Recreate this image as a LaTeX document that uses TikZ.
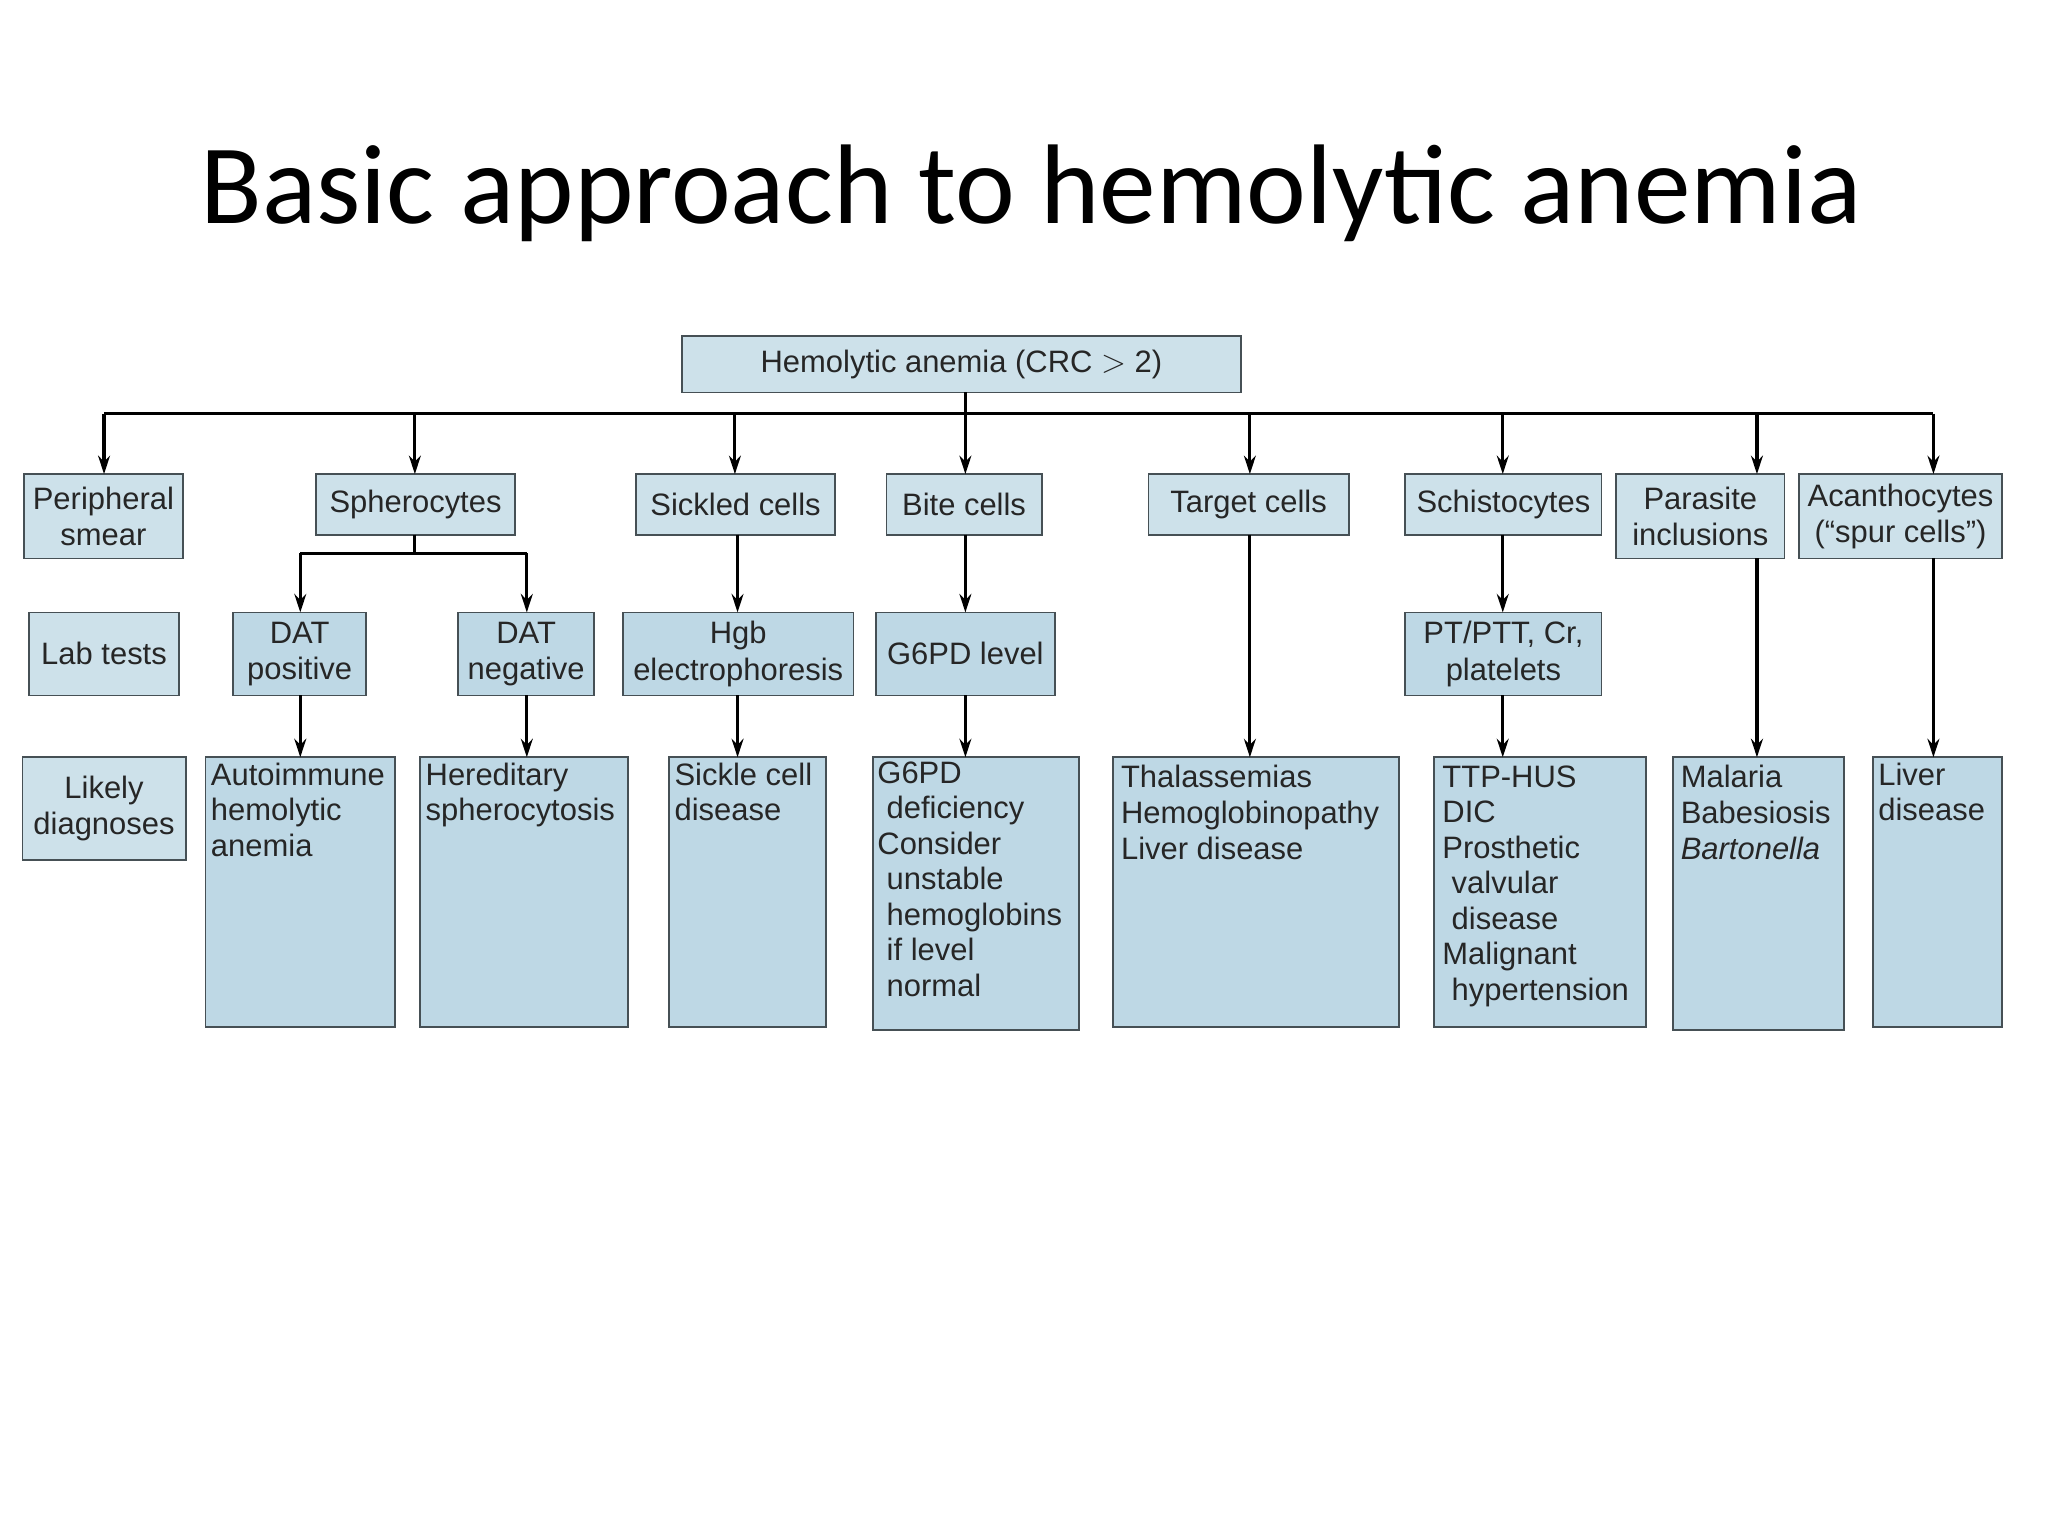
\documentclass[tikz,border=0pt]{standalone}
\usepackage{fontspec}
\setmainfont{Liberation Sans}
\newfontfamily\titlefont{Carlito}
\usetikzlibrary{arrows.meta}
\definecolor{boxA}{RGB}{205,225,234}
\definecolor{boxB}{RGB}{190,216,229}
\definecolor{bord}{RGB}{70,80,85}
\tikzset{
 bxs/.style={draw=bord,line width=1.3pt,inner sep=0pt,outer sep=0pt},
 lab/.style={font=\fontsize{23.5}{27.5}\selectfont,text=black!85,align=center},
 dtx/.style={font=\fontsize{23.5}{27}\selectfont,text=black!85,align=left,anchor=north west,inner sep=4pt},
 conn/.style={line width=2.4pt,-{Stealth[length=14pt,width=9pt]}},
 line/.style={line width=2.4pt}
}
\newcommand\bx[6]{\node[bxs,fill=#6,minimum width={(#4-#2)*1pt},minimum height={(#5-#3)*1pt}] (#1) at ({(#2+#4)/2},{(#3+#5)/2}) {};}
\begin{document}
\begin{tikzpicture}[x=1pt,y=-1pt]
\useasboundingbox (0,0) rectangle (1555,1166);
\node[font=\titlefont\fontsize{86}{90}\selectfont] (title) at (783,147) {Basic approach to hemolytic anemia};
% top
\bx{top}{518}{255}{942}{298}{boxA}
\node[lab] at (top) {Hemolytic anemia (CRC $>$ 2)};
% row1
\bx{ps}{18}{360}{139}{424}{boxA}\node[lab] at (ps) {Peripheral\\smear};
\bx{sph}{240}{360}{391}{406}{boxA}\node[lab] at (sph) {Spherocytes};
\bx{sic}{483}{360}{634}{406}{boxA}\node[lab] at (sic) {Sickled cells};
\bx{bit}{673}{360}{791}{406}{boxA}\node[lab] at (bit) {Bite cells};
\bx{tar}{872}{360}{1024}{406}{boxA}\node[lab] at (tar) {Target cells};
\bx{sch}{1067}{360}{1216}{406}{boxA}\node[lab] at (sch) {Schistocytes};
\bx{par}{1227}{360}{1355}{424}{boxA}\node[lab] at (par) {Parasite\\inclusions};
\bx{aca}{1366}{360}{1520}{424}{boxA}\node[lab] at (aca) {Acanthocytes\\(“spur cells”)};
% row2
\bx{lt}{22}{465}{136}{528}{boxA}\node[lab] at (lt) {Lab tests};
\bx{dp}{177}{465}{278}{528}{boxB}\node[lab] at (dp) {DAT\\positive};
\bx{dn}{348}{465}{451}{528}{boxB}\node[lab] at (dn) {DAT\\negative};
\bx{hgb}{473}{465}{648}{528}{boxB}\node[lab] at (hgb) {Hgb\\electrophoresis};
\bx{g6}{665}{465}{801}{528}{boxB}\node[lab] at (g6) {G6PD level};
\bx{pt}{1067}{465}{1216}{528}{boxB}\node[lab] at (pt) {PT/PTT, Cr,\\platelets};
% row3
\bx{ld}{17}{575}{141}{653}{boxA}\node[lab] at (ld) {Likely\\diagnoses};
\bx{d1}{156}{575}{300}{780}{boxB}\node[dtx] at (d1.north west) {Autoimmune\\hemolytic\\anemia};
\bx{d2}{319}{575}{477}{780}{boxB}\node[dtx] at (d2.north west) {Hereditary\\spherocytosis};
\bx{d3}{508}{575}{627}{780}{boxB}\node[dtx] at (d3.north west) {Sickle cell\\disease};
\bx{d4}{663}{575}{819}{782}{boxB}\node[dtx,inner sep=3pt] at (d4.north west) {G6PD\\\hspace{0.3em}deficiency\\Consider\\\hspace{0.3em}unstable\\\hspace{0.3em}hemoglobins\\\hspace{0.3em}if level\\\hspace{0.3em}normal};
\bx{d5}{845}{575}{1062}{780}{boxB}\node[dtx,inner sep=6pt] at (d5.north west) {Thalassemias\\Hemoglobinopathy\\Liver disease};
\bx{d6}{1089}{575}{1250}{780}{boxB}\node[dtx,inner sep=6pt] at (d6.north west) {TTP-HUS\\DIC\\Prosthetic\\\hspace{0.3em}valvular\\\hspace{0.3em}disease\\Malignant\\\hspace{0.3em}hypertension};
\bx{d7}{1270}{575}{1400}{782}{boxB}\node[dtx,inner sep=6pt] at (d7.north west) {Malaria\\Babesiosis\\\textit{Bartonella}};
\bx{d8}{1422}{575}{1520}{780}{boxB}\node[dtx] at (d8.north west) {Liver\\disease};
% connectors
\coordinate (bl) at (79,314); \coordinate (br) at (1468,314);
\draw[line] (top.south -| 733,0) -- (733,314);
\draw[line] (bl) -- (br);
\foreach \x/\n in {79/ps,315/sph,558/sic,733/bit,949/tar,1141/sch,1334/par,1468/aca}
  \draw[conn] (\x,314) -- (\n.north -| \x,0);
\coordinate (sl) at (228,420); \coordinate (sr) at (400,420);
\draw[line] (sph.south -| 315,0) -- (315,420);
\draw[line] (sl) -- (sr);
\draw[conn] (sl) -- (dp.north -| sl);
\draw[conn] (sr) -- (dn.north -| sr);
\draw[conn] (dp.south -| 228,0) -- (d1.north -| 228,0);
\draw[conn] (dn.south -| 400,0) -- (d2.north -| 400,0);
\draw[conn] (sic.south -| 560,0) -- (hgb.north -| 560,0);
\draw[conn] (hgb.south -| 560,0) -- (d3.north -| 560,0);
\draw[conn] (bit.south -| 733,0) -- (g6.north -| 733,0);
\draw[conn] (g6.south -| 733,0) -- (d4.north -| 733,0);
\draw[conn] (tar.south -| 949,0) -- (d5.north -| 949,0);
\draw[conn] (sch.south -| 1141,0) -- (pt.north -| 1141,0);
\draw[conn] (pt.south -| 1141,0) -- (d6.north -| 1141,0);
\draw[conn] (par.south -| 1334,0) -- (d7.north -| 1334,0);
\draw[conn] (aca.south -| 1468,0) -- (d8.north -| 1468,0);
\end{tikzpicture}
\end{document}
